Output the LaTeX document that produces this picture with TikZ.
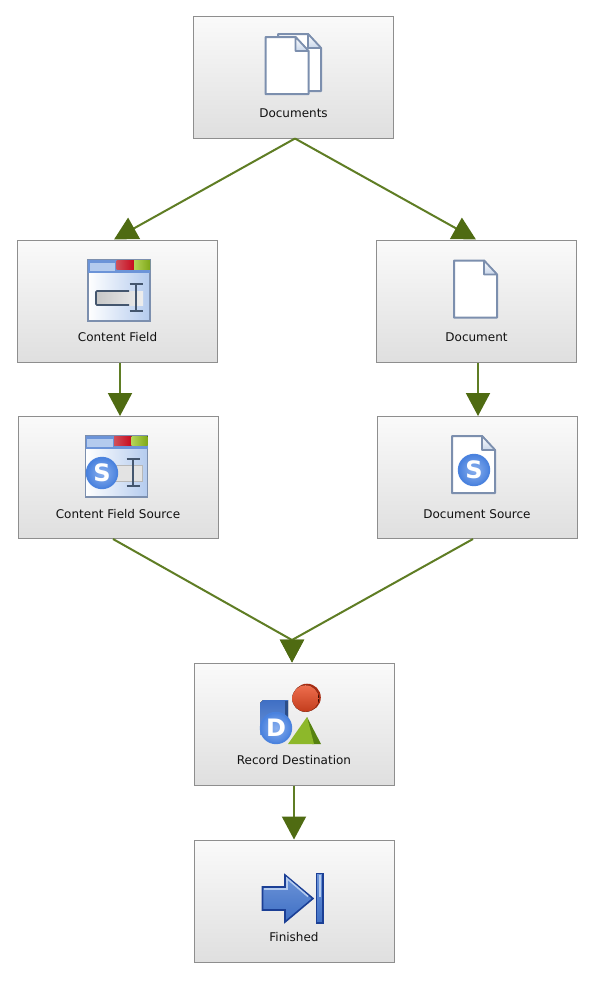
\documentclass[tikz,border=0pt]{standalone}
\usepackage{fontspec}
\setmainfont{DejaVu Sans}
\usetikzlibrary{
  arrows.meta,
  calc
}
\definecolor{FigText}{HTML}{111111}
\definecolor{FigEdge}{HTML}{8E8E8E}
\definecolor{FigTop}{HTML}{FAFAFA}
\definecolor{FigBottom}{HTML}{DFDFDF}
\definecolor{FigGreen}{HTML}{4F6B12}
\definecolor{FigLine}{HTML}{5F7D24}
\definecolor{FigPage}{HTML}{7C8FAE}
\definecolor{FigFold}{HTML}{C8D6EA}
\definecolor{FigBar}{HTML}{6C94D8}
\definecolor{FigPale}{HTML}{B4CBEE}
\definecolor{FigBlue}{HTML}{3F6FC4}
\definecolor{FigNavy}{HTML}{1B3F95}
\definecolor{FigBall}{HTML}{8AB0EE}
\definecolor{FigRing}{HTML}{4A82DE}
\definecolor{FigRedA}{HTML}{D0505A}
\definecolor{FigRedB}{HTML}{C80A1E}
\definecolor{FigLimeA}{HTML}{B4D458}
\definecolor{FigLimeB}{HTML}{7FA818}
\definecolor{FigGrass}{HTML}{8DB82A}
\definecolor{FigSlate}{HTML}{44566E}
\definecolor{FigSphereA}{HTML}{EE6E4E}
\definecolor{FigSphereB}{HTML}{C23C1C}
\definecolor{FigSphereC}{HTML}{A82C12}
\definecolor{FigLeaf}{HTML}{568210}

\tikzset{
pics/page/.style={code={
  \draw[FigPage, line width=2pt, fill=white, line join=round]
    (0,0) -- (30,0) -- (43,14) -- (43,57) -- (0,57) -- cycle;
  \draw[FigPage, line width=1.6pt, top color=white, bottom color=FigFold, line join=round]
    (30,0) -- (30,14) -- (43,14) -- cycle;
}},
pics/window/.style={code={
  % frame and client area
  \draw[FigPage, line width=1.6pt, left color=white, right color=FigPale] (0,0) rectangle (62,61);
  \fill[FigBar] (0,0) rectangle (62,13);
  \fill[FigPale] (1.5,3) rectangle (27,11);
  \fill[left color=FigRedA, right color=FigRedB] (28.5,0) rectangle (46,9);
  \fill[left color=FigLimeA, right color=FigLimeB] (46,0) rectangle (62,9);
}},
pics/badge/.style={code={
  \draw[FigRing, line width=1.4pt, inner color=FigBall, outer color=FigRing] (0,0) circle (15.5);
  \node[text=white, font=\fontsize{24}{24}\selectfont\bfseries, inner sep=0pt] (glyph) at (0,0) {#1};
}},
pics/beam/.style={code={
  \draw[FigSlate, line width=1.4pt] (-6.5,0) -- (6.5,0) (0,0) -- (0,27) (-6.5,27) -- (6.5,27);
}},
}

\begin{document}
\begin{tikzpicture}[
x=1pt,
y=-1pt,
font=\fontsize{12}{14}\selectfont,
box/.style={
draw=FigEdge,
line width=1pt,
top color=FigTop,
bottom color=FigBottom,
minimum width=200pt,
minimum height=122pt,
inner sep=0pt
},
caption/.style={text=FigText, yshift=25pt, inner sep=0pt},
arrow/.style={-{Triangle[width=24pt,length=23pt,color=FigGreen,fill=FigGreen]}, line width=2pt, draw=FigLine}
]
\useasboundingbox (0,0) rectangle (593,983);
\fill[white] (0,0) rectangle (593,983);

% Top box
\node[box] (docs) at (293.5,77) {};
\node[caption] (docscap) at (docs.south) {Documents};
\pic at (278,34) {page};
\pic at (265.5,37) {page};

% Left column
\node[box] (field) at (117.5,301) {};
\node[caption] (fieldcap) at (field.south) {Content Field};
\pic at (88,260) {window};
\fill[left color=black!22, right color=black!7] (96,291) rectangle (143,305);
\draw[FigSlate, line width=1.6pt, rounded corners=1pt] (129,291) -- (96,291) -- (96,305) -- (129,305);
\pic at (136,284) {beam};

\node[box] (fieldsrc) at (118,477.5) {};
\node[caption] (fieldsrccap) at (fieldsrc.south) {Content Field Source};
\pic at (85.5,436) {window};
\draw[black!28, line width=1pt, fill=black!11] (112,465) rectangle (142,481);
\pic at (133,459) {beam};
\pic (fieldbadge) at (102,473) {badge=S};

% Right column
\node[box] (doc) at (476.5,301) {};
\node[caption] (doccap) at (doc.south) {Document};
\pic at (454,260.5) {page};

\node[box] (docsrc) at (477,477.5) {};
\node[caption] (docsrccap) at (docsrc.south) {Document Source};
\pic at (452,436) {page};
\pic (docbadge) at (474,470) {badge=S};

% Record box
\node[box] (record) at (294,724) {};
\node[caption] (recordcap) at (record.south) {Record Destination};
\fill[top color=FigBlue, bottom color=FigBar] (260,703) -- (263,700) -- (288,700) -- (288,728) -- (260,735) -- cycle;
\fill[FigBlue!70!black] (285,701) rectangle (288,722);
\fill[FigSphereC] (307,697.5) circle (13.8);
\fill[top color=FigSphereA, bottom color=FigSphereB] (305.5,698.5) circle (13.3);
\fill[FigLeaf] (307,717) -- (321,744) -- (312,744) -- cycle;
\fill[FigGrass] (288,744) -- (307,717) -- (314,744) -- cycle;
\pic (recordbadge) at (276,728) {badge=D};

% Finished box
\node[box] (finish) at (294,901) {};
\node[caption] (finishcap) at (finish.south) {Finished};
\draw[FigNavy, line width=1.6pt, top color=FigBar, bottom color=FigBlue, line join=miter]
  (262.5,887) -- (285,887) -- (285,875) -- (313,898.5) -- (285,922) -- (285,910) -- (262.5,910) -- cycle;
\draw[FigPale, line width=1.6pt] (264,889) -- (287,889) -- (287,878.5) -- (308,896.5);
\draw[FigNavy, line width=1.6pt, top color=FigBar, bottom color=FigBlue] (316.5,873.5) rectangle (323,923);
\fill[FigPale] (318.5,875) rectangle (320.5,897);

% Joins above the record box
\coordinate (join) at (292,640);

% Arrows
\draw[arrow] ($(docs.south)+(1.5,0)$) -- ($(field.north)+(-3.5,0)$);
\draw[arrow] ($(docs.south)+(1.5,0)$) -- ($(doc.north)+(-0.5,0)$);
\draw[arrow] ($(field.south)+(2.5,0)$) -- ($(fieldsrc.north)+(2,0)$);
\draw[arrow] ($(doc.south)+(1.5,0)$) -- ($(docsrc.north)+(1,0)$);
\draw[arrow] ($(fieldsrc.south)+(-5,0)$) -- (join) -- ($(record.north)+(-2,0)$);
\draw[arrow] ($(docsrc.south)+(-4,0)$) -- (join) -- ($(record.north)+(-2,0)$);
\draw[arrow] (record.south) -- (finish.north);

\end{tikzpicture}
\end{document}
